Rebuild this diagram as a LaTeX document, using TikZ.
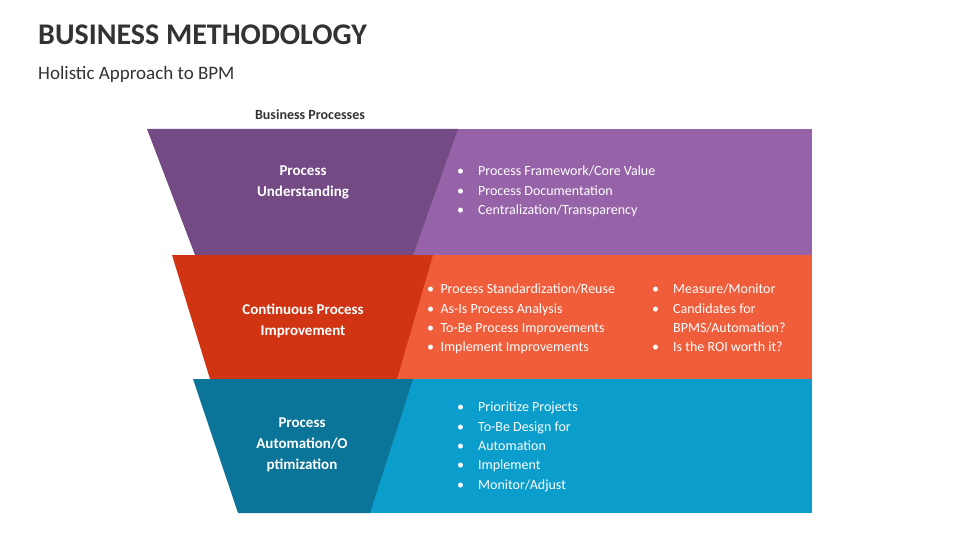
\documentclass[tikz,border=0pt]{standalone}
\usepackage{fontspec}
\setmainfont{Carlito}
\begin{document}
\begin{tikzpicture}[x=1pt,y=-1pt,
  title/.style={anchor=west,inner sep=0pt,font=\bfseries\fontsize{30}{34}\selectfont,text=black!80},
  sub/.style={anchor=west,inner sep=0pt,font=\fontsize{19}{22}\selectfont,text=black!80},
  head/.style={align=center,text=white,font=\bfseries\fontsize{15}{21}\selectfont,inner sep=0pt},
  items/.style={anchor=north west,align=left,text=white,font=\fontsize{14}{19.3}\selectfont,inner sep=0pt}]
\definecolor{dp}{HTML}{744A85}\definecolor{lp}{HTML}{9663A8}
\definecolor{dr}{HTML}{D03412}\definecolor{lr}{HTML}{EF5D3B}
\definecolor{dt}{HTML}{0B7499}\definecolor{lt}{HTML}{0B9DCB}
\useasboundingbox[fill=white] (0,0) rectangle (960,540);
\node[title] (t) at (38,35) {BUSINESS METHODOLOGY};
\node[sub] (s) at (38,74) {Holistic Approach to BPM};
\node[font=\bfseries\fontsize{14}{16}\selectfont,text=black!80] (bp) at (310,115) {Business Processes};
% band 1
\fill[lp] (400,129) rectangle (812,255);
\fill[dp] (147,129) -- (458,129) -- (413,255) -- (195,255) -- cycle;
% band 2
\fill[lr] (390,255) rectangle (812,379);
\fill[dr] (172,255) -- (433,255) -- (397,379) -- (210,379) -- cycle;
% band 3
\fill[lt] (360,379) rectangle (812,513);
\fill[dt] (193,379) -- (413,379) -- (370,513) -- (238,513) -- cycle;
\node[head] (h1) at (303,182) {Process\\Understanding};
\node[head] (h2) at (303,321) {Continuous Process\\Improvement};
\node[head] (h3) at (302,445) {Process\\Automation/O\\ptimization};
\node[items] (i1) at (457,166) {•\quad Process Framework/Core Value\\•\quad Process Documentation\\•\quad Centralization/Transparency};
\node[items] (i2) at (427,284) {•\ \ Process Standardization/Reuse\\•\ \ As-Is Process Analysis\\•\ \ To-Be Process Improvements\\•\ \ Implement Improvements};
\node[items] (i3) at (652,284) {•\quad Measure/Monitor\\•\quad Candidates for\\\phantom{•}\quad BPMS/Automation?\\•\quad Is the ROI worth it?};
\node[items] (i4) at (457,402) {•\quad Prioritize Projects\\•\quad To-Be Design for\\•\quad Automation\\•\quad Implement\\•\quad Monitor/Adjust};
\end{tikzpicture}
\end{document}
